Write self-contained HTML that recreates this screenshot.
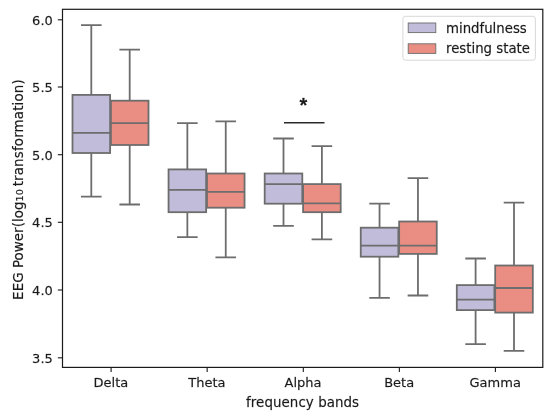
<!DOCTYPE html>
<html lang="en"><head><meta charset="utf-8"><title>EEG Power by frequency band</title>
<style>html,body{margin:0;padding:0;background:#fff;}svg{display:block}text{font-family:"DejaVu Sans","Liberation Sans",sans-serif;fill:#1a1a1a;stroke:#1a1a1a;stroke-width:0.3px;stroke-opacity:0.55}</style></head><body>
<svg width="550" height="420" viewBox="0 0 550 420">
<rect x="0" y="0" width="550" height="420" fill="#ffffff"/>
<g><rect x="72.50" y="94.90" width="37.60" height="58.10" fill="#c0bcd9" stroke="#6d6d6d" stroke-width="1.8"/><path d="M91.30 94.90V25.10M91.30 153.00V196.70" stroke="#6d6d6d" stroke-width="1.8" fill="none"/><path d="M81.90 25.10H100.70M81.90 196.70H100.70" stroke="#6d6d6d" stroke-width="1.8" stroke-linecap="square" fill="none"/><path d="M72.50 132.80H110.10" stroke="#6d6d6d" stroke-width="1.8" fill="none"/><rect x="110.90" y="100.70" width="37.60" height="44.30" fill="#ea8e83" stroke="#6d6d6d" stroke-width="1.8"/><path d="M129.70 100.70V49.70M129.70 145.00V204.50" stroke="#6d6d6d" stroke-width="1.8" fill="none"/><path d="M120.30 49.70H139.10M120.30 204.50H139.10" stroke="#6d6d6d" stroke-width="1.8" stroke-linecap="square" fill="none"/><path d="M110.90 123.10H148.50" stroke="#6d6d6d" stroke-width="1.8" fill="none"/></g>
<g><rect x="168.55" y="169.40" width="37.60" height="42.80" fill="#c0bcd9" stroke="#6d6d6d" stroke-width="1.8"/><path d="M187.35 169.40V123.10M187.35 212.20V237.20" stroke="#6d6d6d" stroke-width="1.8" fill="none"/><path d="M177.95 123.10H196.75M177.95 237.20H196.75" stroke="#6d6d6d" stroke-width="1.8" stroke-linecap="square" fill="none"/><path d="M168.55 189.80H206.15" stroke="#6d6d6d" stroke-width="1.8" fill="none"/><rect x="206.95" y="173.50" width="37.60" height="34.20" fill="#ea8e83" stroke="#6d6d6d" stroke-width="1.8"/><path d="M225.75 173.50V121.30M225.75 207.70V257.30" stroke="#6d6d6d" stroke-width="1.8" fill="none"/><path d="M216.35 121.30H235.15M216.35 257.30H235.15" stroke="#6d6d6d" stroke-width="1.8" stroke-linecap="square" fill="none"/><path d="M206.95 191.80H244.55" stroke="#6d6d6d" stroke-width="1.8" fill="none"/></g>
<g><rect x="264.70" y="173.50" width="37.60" height="30.20" fill="#c0bcd9" stroke="#6d6d6d" stroke-width="1.8"/><path d="M283.50 173.50V138.50M283.50 203.70V225.80" stroke="#6d6d6d" stroke-width="1.8" fill="none"/><path d="M274.10 138.50H292.90M274.10 225.80H292.90" stroke="#6d6d6d" stroke-width="1.8" stroke-linecap="square" fill="none"/><path d="M264.70 184.10H302.30" stroke="#6d6d6d" stroke-width="1.8" fill="none"/><rect x="303.10" y="184.10" width="37.60" height="28.10" fill="#ea8e83" stroke="#6d6d6d" stroke-width="1.8"/><path d="M321.90 184.10V146.20M321.90 212.20V239.30" stroke="#6d6d6d" stroke-width="1.8" fill="none"/><path d="M312.50 146.20H331.30M312.50 239.30H331.30" stroke="#6d6d6d" stroke-width="1.8" stroke-linecap="square" fill="none"/><path d="M303.10 203.40H340.70" stroke="#6d6d6d" stroke-width="1.8" fill="none"/></g>
<g><rect x="360.75" y="227.70" width="37.60" height="29.00" fill="#c0bcd9" stroke="#6d6d6d" stroke-width="1.8"/><path d="M379.55 227.70V203.60M379.55 256.70V297.80" stroke="#6d6d6d" stroke-width="1.8" fill="none"/><path d="M370.15 203.60H388.95M370.15 297.80H388.95" stroke="#6d6d6d" stroke-width="1.8" stroke-linecap="square" fill="none"/><path d="M360.75 245.60H398.35" stroke="#6d6d6d" stroke-width="1.8" fill="none"/><rect x="399.15" y="221.50" width="37.60" height="32.40" fill="#ea8e83" stroke="#6d6d6d" stroke-width="1.8"/><path d="M417.95 221.50V178.10M417.95 253.90V295.50" stroke="#6d6d6d" stroke-width="1.8" fill="none"/><path d="M408.55 178.10H427.35M408.55 295.50H427.35" stroke="#6d6d6d" stroke-width="1.8" stroke-linecap="square" fill="none"/><path d="M399.15 245.60H436.75" stroke="#6d6d6d" stroke-width="1.8" fill="none"/></g>
<g><rect x="456.80" y="285.10" width="37.60" height="25.00" fill="#c0bcd9" stroke="#6d6d6d" stroke-width="1.8"/><path d="M475.60 285.10V258.50M475.60 310.10V344.20" stroke="#6d6d6d" stroke-width="1.8" fill="none"/><path d="M466.20 258.50H485.00M466.20 344.20H485.00" stroke="#6d6d6d" stroke-width="1.8" stroke-linecap="square" fill="none"/><path d="M456.80 299.70H494.40" stroke="#6d6d6d" stroke-width="1.8" fill="none"/><rect x="495.20" y="265.50" width="37.60" height="47.10" fill="#ea8e83" stroke="#6d6d6d" stroke-width="1.8"/><path d="M514.00 265.50V202.60M514.00 312.60V350.80" stroke="#6d6d6d" stroke-width="1.8" fill="none"/><path d="M504.60 202.60H523.40M504.60 350.80H523.40" stroke="#6d6d6d" stroke-width="1.8" stroke-linecap="square" fill="none"/><path d="M495.20 288.00H532.80" stroke="#6d6d6d" stroke-width="1.8" fill="none"/></g>
<path d="M284.0 122.8H324.5" stroke="#2a2a2a" stroke-width="1.5" fill="none"/>
<text x="303.3" y="112.3" font-size="20" font-weight="bold" text-anchor="middle" style="font-family:'Liberation Sans',sans-serif">*</text>
<rect x="62.5" y="9.3" width="480.30" height="358.10" fill="none" stroke="#1a1a1a" stroke-width="1.2"/>
<path d="M62.5 19.8h-4.7" stroke="#1a1a1a" stroke-width="1.1"/>
<text x="52.8" y="24.70" font-size="13.0" text-anchor="end">6.0</text>
<path d="M62.5 87.0h-4.7" stroke="#1a1a1a" stroke-width="1.1"/>
<text x="52.8" y="91.90" font-size="13.0" text-anchor="end">5.5</text>
<path d="M62.5 154.7h-4.7" stroke="#1a1a1a" stroke-width="1.1"/>
<text x="52.8" y="159.60" font-size="13.0" text-anchor="end">5.0</text>
<path d="M62.5 222.3h-4.7" stroke="#1a1a1a" stroke-width="1.1"/>
<text x="52.8" y="227.20" font-size="13.0" text-anchor="end">4.5</text>
<path d="M62.5 290.0h-4.7" stroke="#1a1a1a" stroke-width="1.1"/>
<text x="52.8" y="294.90" font-size="13.0" text-anchor="end">4.0</text>
<path d="M62.5 357.8h-4.7" stroke="#1a1a1a" stroke-width="1.1"/>
<text x="52.8" y="362.70" font-size="13.0" text-anchor="end">3.5</text>
<path d="M111.10 367.4v4.7" stroke="#1a1a1a" stroke-width="1.1"/>
<text x="110.90" y="387.0" font-size="13.0" text-anchor="middle">Delta</text>
<path d="M207.15 367.4v4.7" stroke="#1a1a1a" stroke-width="1.1"/>
<text x="206.95" y="387.0" font-size="13.0" text-anchor="middle">Theta</text>
<path d="M303.30 367.4v4.7" stroke="#1a1a1a" stroke-width="1.1"/>
<text x="303.10" y="387.0" font-size="13.0" text-anchor="middle">Alpha</text>
<path d="M399.35 367.4v4.7" stroke="#1a1a1a" stroke-width="1.1"/>
<text x="399.15" y="387.0" font-size="13.0" text-anchor="middle">Beta</text>
<path d="M495.40 367.4v4.7" stroke="#1a1a1a" stroke-width="1.1"/>
<text x="495.20" y="387.0" font-size="13.0" text-anchor="middle">Gamma</text>
<text x="302.6" y="406.6" font-size="13.4" letter-spacing="0.07" text-anchor="middle">frequency bands</text>
<text transform="translate(22.9 189.5) rotate(-90)" font-size="13.4" letter-spacing="0.06" text-anchor="middle">EEG Power(log<tspan font-size="15" dy="0.4">₁₀</tspan><tspan dy="-0.4" dx="-1.5" letter-spacing="0.167"> transformation)</tspan></text>
<rect x="402.9" y="16.3" width="132.5" height="43.9" rx="2.5" ry="2.5" fill="#ffffff" fill-opacity="0.8" stroke="#d4d4d4" stroke-opacity="0.9" stroke-width="1"/>
<rect x="408.2" y="23.0" width="27.6" height="9.6" fill="#c0bcd9" stroke="#6d6d6d" stroke-width="0.9"/>
<rect x="408.2" y="43.8" width="27.6" height="9.6" fill="#ea8e83" stroke="#6d6d6d" stroke-width="0.9"/>
<text x="446" y="33.2" font-size="13.3">mindfulness</text>
<text x="446" y="52.9" font-size="13.3">resting state</text>
</svg></body></html>
